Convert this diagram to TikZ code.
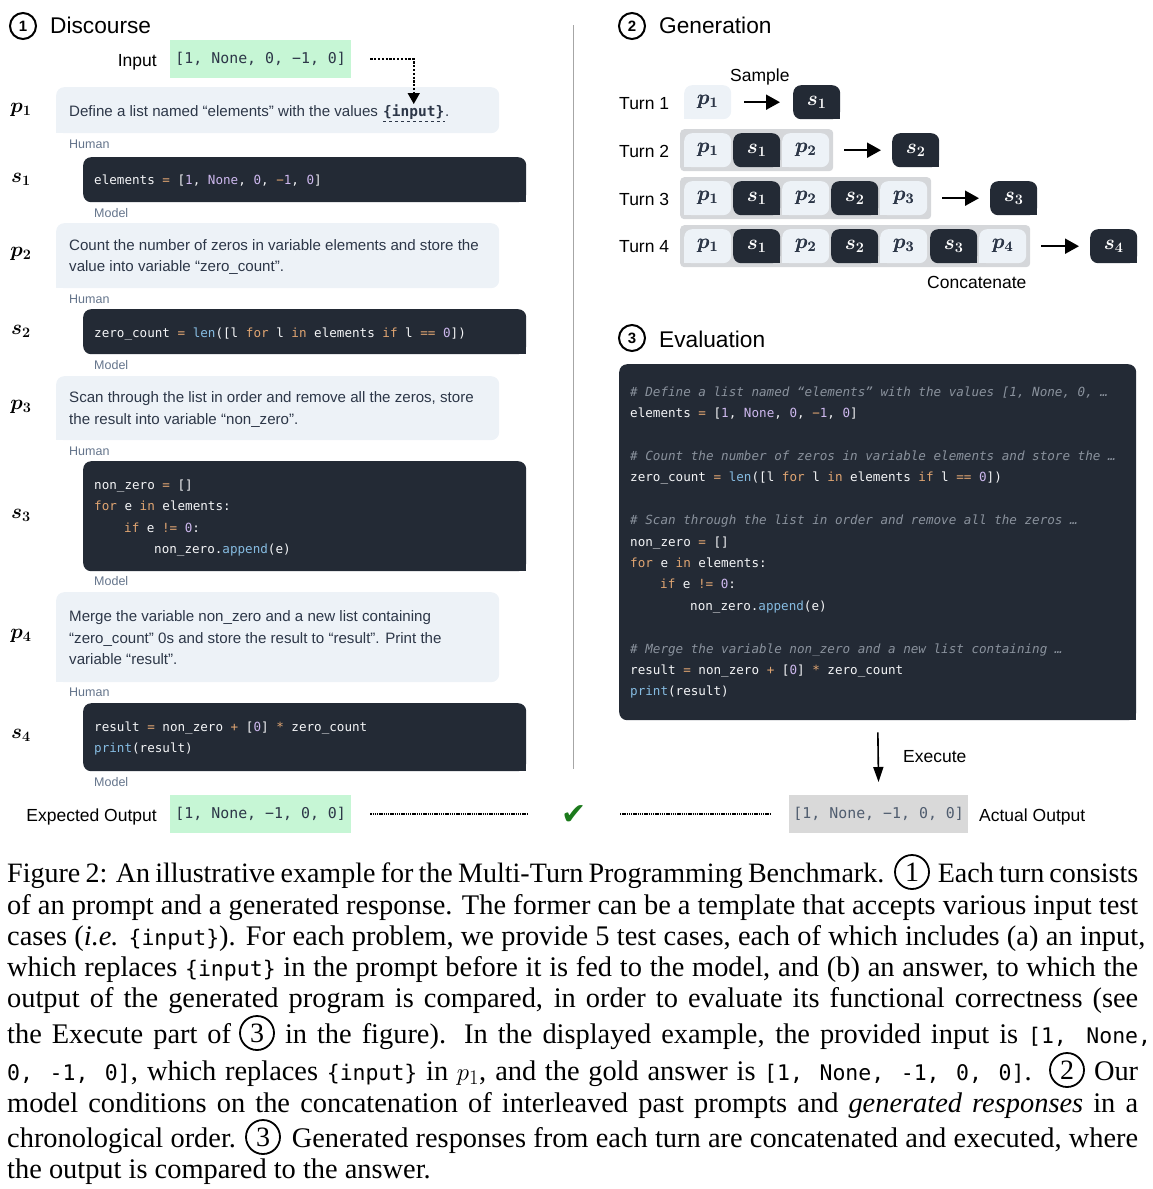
\documentclass[tikz,border=0pt]{standalone}
\usepackage{fontspec}
\setmainfont{Liberation Sans}
\newfontfamily\capfont{Liberation Serif}
\newfontfamily\codefont{DejaVu Sans Mono}
\newfontfamily\symfont{DejaVu Sans}
\usetikzlibrary{arrows.meta}
\definecolor{promptfill}{HTML}{EDF2F7}
\definecolor{modelfill}{HTML}{232A35}
\definecolor{greenfill}{HTML}{C6F6D5}
\definecolor{grayfill}{HTML}{D9D9D9}
\definecolor{barfill}{HTML}{D5D7DA}
\definecolor{inkdark}{HTML}{2D3748}
\definecolor{inkgray}{HTML}{64748B}
\definecolor{codewhite}{HTML}{F4F5F7}
\definecolor{codekw}{HTML}{E0A572}
\definecolor{codenum}{HTML}{CDB8EE}
\definecolor{codefn}{HTML}{86BCE2}
\definecolor{codecom}{HTML}{8A929D}
\definecolor{checkgreen}{HTML}{1C7A1C}
\newcommand{\kwtok}[1]{\textcolor{codekw}{#1}}
\newcommand{\numtok}[1]{\textcolor{codenum}{#1}}
\newcommand{\fntok}[1]{\textcolor{codefn}{#1}}
\newcommand{\comtok}[1]{\textcolor{codecom}{\itshape #1}}
\newcommand{\capmono}[1]{{\codefont\fontsize{21.5}{26}\selectfont #1}}
\newcommand{\flattext}[1]{\raisebox{-1.5pt}{#1}}
\tikzset{
  bubble/.style={rectangle, rounded corners=8pt, inner sep=0pt, anchor=north west},
  chip/.style={bubble, minimum width=47pt, minimum height=34pt, font=\boldmath\fontsize{22}{26}\selectfont},
  turnbar/.style={bubble, rounded corners=4pt, fill=barfill, minimum height=42pt},
  flatbox/.style={rectangle, inner sep=0pt, anchor=north west, minimum width=181pt, minimum height=38pt, text=inkdark, font=\codefont\fontsize{14.9}{18}\selectfont},
  heading/.style={inner sep=0pt, anchor=base west, font=\fontsize{22.7}{26}\selectfont},
  numcirc/.style={circle, draw=black, line width=2pt, minimum size=26pt, inner sep=0pt, font=\bfseries\fontsize{15}{18}\selectfont},
  capcirc/.style={circle, draw=black, line width=1.8pt, minimum size=34pt, inner sep=0pt, font=\capfont\fontsize{28}{32}\selectfont},
  label/.style={inner sep=0pt, anchor=base west, font=\fontsize{17.5}{21}\selectfont},
  sidelabel/.style={label, anchor=base east},
  mathlabel/.style={inner sep=0pt, anchor=center, font=\boldmath\fontsize{22}{26}\selectfont},
  bodytext/.style={inner sep=0pt, anchor=base west, text=inkdark, font=\fontsize{15.1}{18}\selectfont},
  roletext/.style={inner sep=0pt, anchor=base west, text=inkgray, font=\fontsize{12.5}{15}\selectfont},
  codeline/.style={inner sep=0pt, anchor=base west, text=codewhite, font=\codefont\frenchspacing\fontsize{12.6}{15}\selectfont},
  capline/.style={inner sep=0pt, anchor=base west, font=\capfont\fontsize{28.4}{32}\selectfont},
  bigarrow/.style={line width=2pt, -{Triangle[length=14pt,width=15pt]}, shorten <=11pt, shorten >=11pt},
  dotlink/.style={line width=1.6pt, dash pattern=on 2.2pt off 1.6pt},
  rowlink/.style={line width=1.8pt, dash pattern=on 1.3pt off 0.9pt}
}
% boxes with one square corner at the bottom
\newcommand{\promptbox}[5]{
\node[bubble, fill=promptfill, minimum width={(#4-#2)*1pt}, minimum height={(#5-#3)*1pt}] (#1) at (#2,#3) {};
\fill[promptfill] (#1.south west) rectangle ++(9,-9);
}
\newcommand{\modelbox}[5]{
\node[bubble, fill=modelfill, minimum width={(#4-#2)*1pt}, minimum height={(#5-#3)*1pt}] (#1) at (#2,#3) {};
\fill[modelfill] (#1.south east) rectangle ++(-9,-9);
}
\newcommand{\promptchip}[4]{
\node[chip, fill=promptfill, text=inkdark] (#1) at (#2,#3) {$#4$};
\fill[promptfill] (#1.south west) rectangle ++(8,-8);
\node[chip, text=inkdark] (#1t) at (#2,#3) {$#4$};
}
\newcommand{\modelchip}[4]{
\node[chip, fill=modelfill] (#1) at (#2,#3) {};
\fill[modelfill] (#1.south east) rectangle ++(-8,-8);
\node[chip, text=white] (#1t) at (#2,#3) {$#4$};
}
\begin{document}
\begin{tikzpicture}[x=1pt, y=-1pt]
\useasboundingbox (0,0) rectangle (1152,1189);
% headings
\node[numcirc] (num1) at (23,26) {1};
\node[heading] (head1) at (50,33) {Discourse};
\node[numcirc] (num2) at (632,26) {2};
\node[heading] (head2) at (659,33) {Generation};
\node[numcirc] (num3) at (632,338) {3};
\node[heading] (head3) at (659,347) {Evaluation};
\coordinate (ruletop) at (573,25);
\coordinate (rulebot) at (573,769);
\draw[gray!70, line width=1pt] (ruletop) -- (rulebot);
% 1 discourse
\node[sidelabel] (inputlabel) at (157,66) {Input};
\node[flatbox, fill=greenfill] (inputbox) at (170,40) {\flattext{[1, None, 0, −1, 0]}};
\promptbox{p1box}{56}{87}{499}{133}
\node[bodytext] (p1line) at (69,116) {Define a list named “elements” with the values};
\node[inner sep=0pt, anchor=base west, text=inkdark, font=\codefont\bfseries\fontsize{14.5}{18}\selectfont] (inputslot) at (383,116) {\{input\}};
\node[bodytext] (p1dot) at (445,116) {.};
\draw[inkdark, dashed, line width=1pt] ([yshift=-2pt]inputslot.south west) -- ([yshift=-2pt]inputslot.south east);
\draw[dotlink, -{Triangle[length=11pt,width=12pt]}, shorten <=19pt] (inputbox.east) -| (inputslot.north);
\node[roletext] (human1) at (69,148) {Human};
\modelbox{s1box}{83}{157}{526}{202}
\node[codeline] (s1line) at (94,184) {elements \kwtok{=} [\numtok{1}, \numtok{None}, \numtok{0}, \kwtok{−}\numtok{1}, \numtok{0}]};
\node[roletext] (model1) at (94,217) {Model};
\promptbox{p2box}{56}{223}{499}{288}
\node[bodytext] (p2linea) at (69,250) {Count the number of zeros in variable elements and store the};
\node[bodytext] (p2lineb) at (69,271) {value into variable “zero\_count”.};
\node[roletext] (human2) at (69,303) {Human};
\modelbox{s2box}{83}{309}{526}{354}
\node[codeline] (s2line) at (94,337) {zero\_count \kwtok{=} \fntok{len}([l \kwtok{for} l \kwtok{in} elements \kwtok{if} l \kwtok{==} \numtok{0}])};
\node[roletext] (model2) at (94,369) {Model};
\promptbox{p3box}{56}{376}{499}{440}
\node[bodytext] (p3linea) at (69,402) {Scan through the list in order and remove all the zeros, store};
\node[bodytext] (p3lineb) at (69,424) {the result into variable “non\_zero”.};
\node[roletext] (human3) at (69,455) {Human};
\modelbox{s3box}{83}{461}{526}{571}
\node[codeline] (s3linea) at (94,489) {non\_zero \kwtok{=} []};
\node[codeline] (s3lineb) at (94,510) {\kwtok{for} e \kwtok{in} elements:};
\node[codeline] (s3linec) at (124,532) {\kwtok{if} e \kwtok{!=} \numtok{0}:};
\node[codeline] (s3lined) at (154,553) {non\_zero.\fntok{append}(e)};
\node[roletext] (model3) at (94,585) {Model};
\promptbox{p4box}{56}{592}{499}{682}
\node[bodytext] (p4linea) at (69,621) {Merge the variable non\_zero and a new list containing};
\node[bodytext] (p4lineb) at (69,643) {“zero\_count” 0s and store the result to “result”. Print the};
\node[bodytext] (p4linec) at (69,664) {variable “result”.};
\node[roletext] (human4) at (69,696) {Human};
\modelbox{s4box}{83}{703}{526}{771}
\node[codeline] (s4linea) at (94,731) {result \kwtok{=} non\_zero \kwtok{+} [\numtok{0}] \kwtok{*} zero\_count};
\node[codeline] (s4lineb) at (94,752) {\fntok{print}(result)};
\node[roletext] (model4) at (94,786) {Model};
\foreach \k/\py/\sy in {1/110/179, 2/254/331, 3/407/515, 4/636/735} {
  \node[mathlabel] (plabel\k) at (21,\py) {$p_\k$};
  \node[mathlabel] (slabel\k) at (21,\sy) {$s_\k$};
}
% 2 generation
\node[label] (samplelabel) at (730,81) {Sample};
\node[label] (turnlabel1) at (619,109) {Turn 1};
\node[label] (turnlabel2) at (619,157) {Turn 2};
\node[label] (turnlabel3) at (619,205) {Turn 3};
\node[label] (turnlabel4) at (619,252) {Turn 4};
\promptchip{tap1}{684}{85}{p_1}
\modelchip{tout1}{793}{85}{s_1}
\draw[bigarrow, shorten <=13pt, shorten >=13pt] (tap1) -- (tout1);
\node[turnbar, minimum width=153pt] (bar2) at (680,129) {};
\foreach \x/\k in {684/1, 782/2} {\promptchip{tbp\k}{\x}{133}{p_\k}}
\modelchip{tbs1}{733}{133}{s_1}
\modelchip{tout2}{892}{133}{s_2}
\draw[bigarrow] (bar2) -- (tout2);
\node[turnbar, minimum width=251pt] (bar3) at (680,177) {};
\foreach \x/\k in {684/1, 782/2, 880/3} {\promptchip{tcp\k}{\x}{181}{p_\k}}
\foreach \x/\k in {733/1, 831/2} {\modelchip{tcs\k}{\x}{181}{s_\k}}
\modelchip{tout3}{990}{181}{s_3}
\draw[bigarrow] (bar3) -- (tout3);
\node[turnbar, minimum width=350pt] (bar4) at (680,225) {};
\foreach \x/\k in {684/1, 782/2, 880/3, 979/4} {\promptchip{tdp\k}{\x}{229}{p_\k}}
\foreach \x/\k in {733/1, 831/2, 930/3} {\modelchip{tds\k}{\x}{229}{s_\k}}
\modelchip{tout4}{1090}{229}{s_4}
\draw[bigarrow] (bar4) -- (tout4);
\node[label] (concatlabel) at (927,288) {Concatenate};
% 3 evaluation
\modelbox{evalpanel}{619}{364}{1136}{720}
\node[codeline] (ev1) at (630,396) {\comtok{\# Define a list named “elements” with the values [1, None, 0, …}};
\node[codeline] (ev2) at (630,417) {elements \kwtok{=} [\numtok{1}, \numtok{None}, \numtok{0}, \kwtok{−}\numtok{1}, \numtok{0}]};
\node[codeline] (ev3) at (630,460) {\comtok{\# Count the number of zeros in variable elements and store the …}};
\node[codeline] (ev4) at (630,481) {zero\_count \kwtok{=} \fntok{len}([l \kwtok{for} l \kwtok{in} elements \kwtok{if} l \kwtok{==} \numtok{0}])};
\node[codeline] (ev5) at (630,524) {\comtok{\# Scan through the list in order and remove all the zeros …}};
\node[codeline] (ev6) at (630,546) {non\_zero \kwtok{=} []};
\node[codeline] (ev7) at (630,567) {\kwtok{for} e \kwtok{in} elements:};
\node[codeline] (ev8) at (660,588) {\kwtok{if} e \kwtok{!=} \numtok{0}:};
\node[codeline] (ev9) at (690,610) {non\_zero.\fntok{append}(e)};
\node[codeline] (ev10) at (630,653) {\comtok{\# Merge the variable non\_zero and a new list containing …}};
\node[codeline] (ev11) at (630,674) {result \kwtok{=} non\_zero \kwtok{+} [\numtok{0}] \kwtok{*} zero\_count};
\node[codeline] (ev12) at (630,695) {\fntok{print}(result)};
\node[label] (executelabel) at (903,762) {Execute};
% output row
\node[sidelabel] (expectedlabel) at (157,821) {Expected Output};
\node[flatbox, fill=greenfill] (expected) at (170,795) {\flattext{[1, None, −1, 0, 0]}};
\node[inner sep=0pt, text=checkgreen, font=\symfont\fontsize{30}{34}\selectfont] (check) at (574,815) {✔};
\node[flatbox, fill=grayfill, minimum width=179pt, text=inkgray!80!black] (actual) at (789,795) {\flattext{[1, None, −1, 0, 0]}};
\node[label] (actuallabel) at (979,821) {Actual Output};
\draw[rowlink, shorten <=19pt, shorten >=47pt] (expected.east) -- (actual.west -| check);
\draw[rowlink, shorten <=46pt, shorten >=19pt] (actual.west -| check) -- (actual.west);
\draw[line width=1.6pt, -{Triangle[length=15pt,width=10pt]}, shorten <=12pt, shorten >=13pt] (evalpanel.south) -- (actual.north);
% caption
\node[capline] (cap1) at (7,882) {\fontsize{28.05}{32}\selectfont\hbox to 1131pt{Figure 2: An illustrative example for the Multi-Turn Programming Benchmark. \hspace{36pt} Each turn consists}};
\node[capline] (cap2) at (7,914) {\hbox to 1131pt{of an prompt and a generated response. The former can be a template that accepts various input test}};
\node[capline] (cap3) at (7,945) {\hbox to 1131pt{cases (\textit{i.e.} \capmono{\{input\}}). For each problem, we provide 5 test cases, each of which includes (a) an input\rlap{,}}};
\node[capline] (cap4) at (7,976) {\hbox to 1131pt{which replaces \capmono{\{input\}} in the prompt before it is fed to the model, and (b) an answer, to which the}};
\node[capline] (cap5) at (7,1007) {\hbox to 1131pt{output of the generated program is compared, in order to evaluate its functional correctness (see}};
\node[capline] (cap6) at (7,1043) {\hbox to 1131pt{the Execute part of \hspace{34pt} in the figure). In the displayed example, the provided input is \capmono{[1, None}\rlap{\capmono{,}}}};
\node[capline] (cap7) at (7,1080) {\hbox to 1131pt{\capmono{0, -1, 0]}, which replaces \capmono{\{input\}} in $p_1$, and the gold answer is \capmono{[1, None, -1, 0, 0]}. \hspace{34pt} Our}};
\node[capline] (cap8) at (7,1112) {\hbox to 1131pt{model conditions on the concatenation of interleaved past prompts and \textit{generated responses} in a}};
\node[capline] (cap9) at (7,1147) {\hbox to 1131pt{chronological order. \hspace{36pt} Generated responses from each turn are concatenated and executed, where}};
\node[capline] (cap10) at (7,1178) {the output is compared to the answer.};
\node[capcirc] (capnum1) at (912,872) {1};
\node[capcirc] (capnum2) at (257,1033) {3};
\node[capcirc] (capnum3) at (1067,1070) {2};
\node[capcirc] (capnum4) at (263,1137) {3};
\end{tikzpicture}
\end{document}
